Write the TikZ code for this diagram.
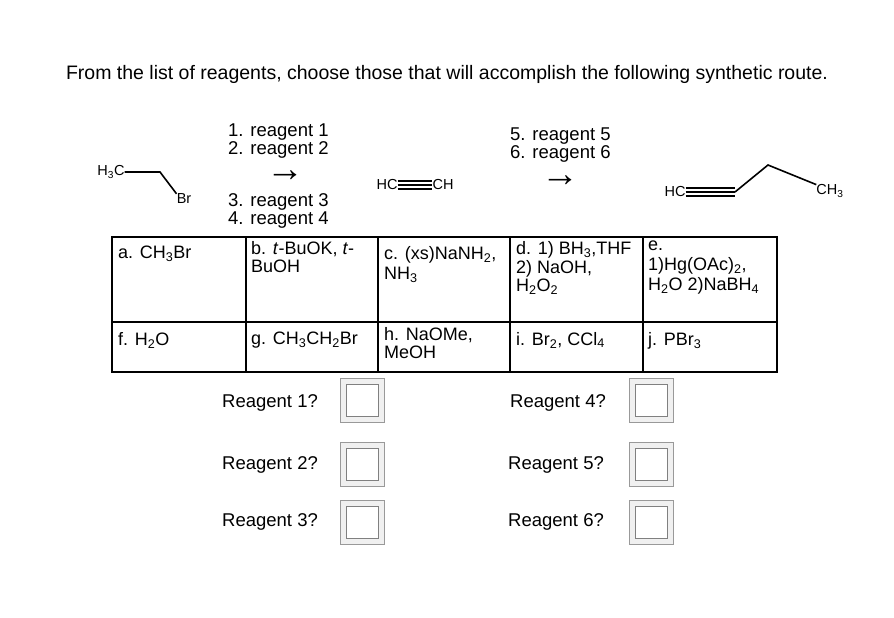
\documentclass[tikz,border=0pt]{standalone}
\usepackage{fontspec}
\setmainfont{Liberation Sans}
\begin{document}
\begin{tikzpicture}[x=1pt,y=-1pt,
  t/.style={font=\fontsize{18.5}{20}\selectfont,inner sep=0,anchor=west},
  lab/.style={font=\fontsize{18.5}{18}\selectfont,inner sep=0,anchor=west,align=left},
  arr/.style={font=\fontsize{38}{38}\selectfont,inner sep=0},
  s/.style={font=\fontsize{14.5}{15}\selectfont,inner sep=0},
  cell/.style={font=\fontsize{18}{18}\selectfont,inner sep=0,anchor=north west,align=left},
  ans/.style={draw=gray!80,line width=1pt,fill=black!6,minimum width=44,minimum height=44,inner sep=0},
  bond/.style={line width=1.6pt}]
\useasboundingbox (0,0) rectangle (894,618);
\node[font=\fontsize{19.5}{20}\selectfont,inner sep=0] (title) at (447,74) {From the list of reagents, choose those that will accomplish the following synthetic route.};
% reactant
\node[s] (h3c) at (111,172) {H\textsubscript{3}C};
\node[s] (br) at (184,199) {Br};
\coordinate (c1) at (160,172);
\draw[bond] (h3c.east) -- (c1) -- (br.north west);
\node[lab] (r12) at (228,141) {1. reagent 1\\2. reagent 2};
\node[arr] (a1) at (285,176) {→};
\node[lab] (r34) at (228,211) {3. reagent 3\\4. reagent 4};
% acetylene
\node[s] (hc1) at (387,185) {HC};
\node[s] (ch1) at (443,185) {CH};
\draw[bond] (hc1.east) -- (ch1.west);
\draw[bond] ([yshift=-4]hc1.east) -- ([yshift=-4]ch1.west);
\draw[bond] ([yshift=4]hc1.east) -- ([yshift=4]ch1.west);
\node[lab] (r56) at (510,145) {5. reagent 5\\6. reagent 6};
\node[arr] (a2) at (560,181) {→};
% product
\node[s] (hc2) at (675,192) {HC};
\coordinate (c2) at (735,192);
\coordinate (c3) at (768,165);
\node[s] (ch3) at (830,191) {CH\textsubscript{3}};
\draw[bond] (hc2.east) -- (c2);
\draw[bond] ([yshift=-4]hc2.east) -- ([yshift=-4]c2);
\draw[bond] ([yshift=4]hc2.east) -- ([yshift=4]c2);
\draw[bond] (c2) -- (c3) -- (ch3.north west);
% table
\draw[line width=1.2pt] (112,237) rectangle (777,372);
\draw[line width=1.2pt] (112,322) -- (777,322);
\foreach \x in {246,378,510,643} \draw[line width=1.2pt] (\x,237) -- (\x,372);
\node[cell] (ca) at (118,246) {a. CH\textsubscript{3}Br};
\node[cell] (cb) at (251,241) {b. \textit{t}-BuOK, \textit{t}-\\BuOH};
\node[cell] (cc) at (384,246) {c. (xs)NaNH\textsubscript{2},\\[2pt]NH\textsubscript{3}};
\node[cell] (cd) at (516,241) {d. 1) BH\textsubscript{3},THF\\[1pt]2) NaOH,\\H\textsubscript{2}O\textsubscript{2}};
\node[cell] (ce) at (648,241) {e.\\[2pt]1)Hg(OAc)\textsubscript{2},\\[2pt]H\textsubscript{2}O 2)NaBH\textsubscript{4}};
\node[cell] (cf) at (118,332) {f. H\textsubscript{2}O};
\node[cell] (cg) at (251,332) {g. CH\textsubscript{3}CH\textsubscript{2}Br};
\node[cell] (ch) at (384,327) {h. NaOMe,\\MeOH};
\node[cell] (ci) at (516,332) {i. Br\textsubscript{2}, CCl\textsubscript{4}};
\node[cell] (cj) at (648,332) {j. PBr\textsubscript{3}};
% answers
\node[t] (q1) at (222,403) {Reagent 1?};
\node[t] (q2) at (222,465) {Reagent 2?};
\node[t] (q3) at (222,522) {Reagent 3?};
\node[t] (q4) at (510,403) {Reagent 4?};
\node[t] (q5) at (508,465) {Reagent 5?};
\node[t] (q6) at (508,522) {Reagent 6?};
\foreach \n/\x/\y in {b1/362/400,b2/362/464,b3/362/522,b4/651/400,b5/651/464,b6/651/522}{
  \node[ans] (\n) at (\x,\y) {};
  \node[draw=gray,fill=white,minimum width=32,minimum height=32,inner sep=0,line width=0.8pt] at (\x,\y) {};
}
\end{tikzpicture}
\end{document}
